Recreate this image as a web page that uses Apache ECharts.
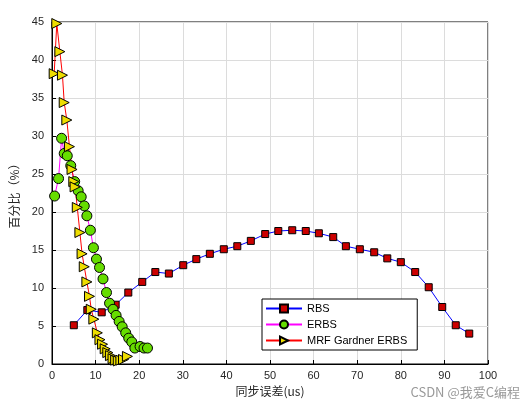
<!DOCTYPE html><html><head><meta charset="utf-8"><script src="https://cdn.jsdelivr.net/npm/echarts@6/dist/echarts.min.js"></script></head><body style="margin:0;background:#fff"><div id="c" style="width:528px;height:409px"></div><script>
const rbsX=[5,8.1,11.4,14.6,17.5,20.7,23.7,26.8,30.1,33.1,36.2,39.4,42.5,45.6,48.9,51.9,55.1,58.2,61.2,64.5,67.4,70.6,73.9,76.9,80.0,83.3,86.4,89.5,92.6,95.7];
const rbsY=[5.1,7.1,6.8,7.8,9.4,10.8,12.1,11.9,13.0,13.8,14.5,15.1,15.5,16.2,17.1,17.5,17.6,17.5,17.2,16.7,15.5,15.1,14.7,13.9,13.4,12.1,10.1,7.5,5.1,4.0];
const erbsX=[0.6,1.5,2.2,2.8,3.5,4.3,5.2,6.0,6.7,7.4,8.0,8.8,9.5,10.2,10.9,11.7,12.5,13.2,14.0,14.7,15.4,16.1,16.9,17.6,18.3,19.0,20.2,21.1,21.9];
const erbsY=[22.1,24.4,29.7,27.7,27.4,26.1,24.0,22.8,22.0,20.8,19.5,17.6,15.3,13.8,12.7,11.2,9.4,8.0,7.2,6.4,5.6,4.9,4.1,3.4,2.9,2.1,2.3,2.1,2.1];
const mrfX=[0.5,1.1,1.8,2.4,2.8,3.4,4.0,4.6,5.0,5.3,5.8,6.4,6.9,7.4,8.0,8.6,9.0,9.6,10.4,11.0,11.6,12.2,12.8,13.4,14.0,14.6,15.2,15.8,16.4,17.3];
const mrfY=[38.2,44.8,41.1,38.0,34.4,32.1,28.6,25.6,24.0,23.3,20.6,17.3,14.5,12.8,10.8,8.9,7.2,5.9,4.1,3.2,2.6,2.0,1.5,1.1,0.7,0.5,0.4,0.5,0.6,1.0];
const xTicks=[0,10,20,30,40,50,60,70,80,90,100], yTicks=[0,5,10,15,20,25,30,35,40,45];
const z=(a,b)=>a.map((v,i)=>[v,b[i]]);
const font='Liberation Sans';
const c=echarts.init(document.getElementById('c'));
c.setOption({animation:false,textStyle:{fontFamily:font},
grid:{left:52,right:40,top:22,bottom:45,show:true,borderColor:'#000',borderWidth:1},
xAxis:{type:'value',min:0,max:100,interval:10,name:'同步误差(us)',nameLocation:'middle',nameGap:20,nameTextStyle:{color:'#262626',fontSize:12,fontFamily:'Noto Sans CJK SC'},
axisLine:{lineStyle:{color:'#000'}},axisTick:{inside:true,length:4},axisLabel:{color:'#262626',fontSize:11,margin:6},splitLine:{lineStyle:{color:'#dcdcdc'}}},
yAxis:{type:'value',min:0,max:45,interval:5,name:'百分比（%）',nameLocation:'middle',nameGap:28,nameTextStyle:{color:'#262626',fontSize:12,fontFamily:'Noto Sans CJK SC'},
axisLine:{show:true,lineStyle:{color:'#000'}},axisTick:{show:true,inside:true,length:4},axisLabel:{color:'#262626',fontSize:11,margin:8},splitLine:{lineStyle:{color:'#dcdcdc'}}},
legend:{left:262,top:299,orient:'vertical',itemGap:5,itemWidth:36,itemHeight:10,backgroundColor:'#fff',borderColor:'#000',borderWidth:1,padding:[4,10,4,3],textStyle:{fontSize:11,color:'#000'},
data:['RBS','ERBS','MRF Gardner ERBS']},
series:[
{name:'RBS',type:'line',data:z(rbsX,rbsY),symbol:'rect',symbolSize:7,lineStyle:{color:'#0000ff',width:1},itemStyle:{color:'#cc0000',borderColor:'#000',borderWidth:1}},
{name:'ERBS',type:'line',data:z(erbsX,erbsY),symbol:'circle',symbolSize:10,lineStyle:{color:'#ff00ff',width:1},itemStyle:{color:'#66dd00',borderColor:'#000',borderWidth:1}},
{name:'MRF Gardner ERBS',type:'line',data:z(mrfX,mrfY),symbol:'triangle',symbolRotate:-90,symbolSize:10,lineStyle:{color:'#ff0000',width:1},itemStyle:{color:'#eedd00',borderColor:'#000',borderWidth:1}}],
graphic:[{type:'text',right:8,bottom:10,style:{text:'CSDN @我爱C编程',fontSize:13,fill:'#999',fontFamily:'Noto Sans CJK SC'}}]});
</script></body></html>
